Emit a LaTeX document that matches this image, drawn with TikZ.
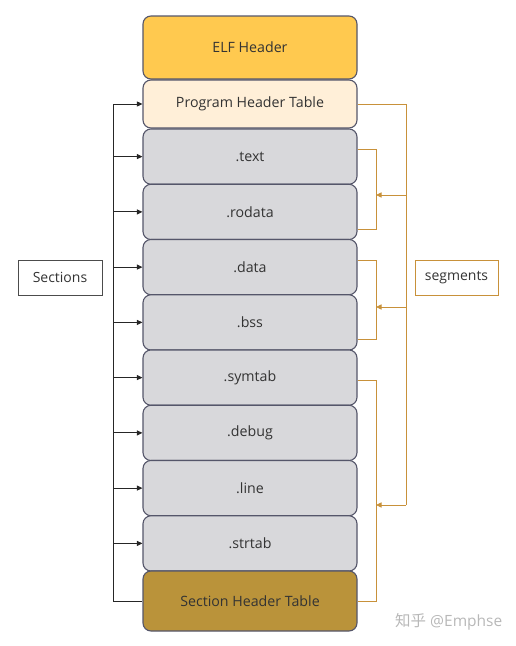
\documentclass[tikz,border=0pt]{standalone}
\usepackage{fontspec}
\setmainfont{Open Sans}
\newfontfamily\cjkfont{Noto Sans CJK SC}
\usetikzlibrary{arrows.meta}
\definecolor{elfc}{HTML}{FFC94F}
\definecolor{phtc}{HTML}{FFEFD8}
\definecolor{grayc}{HTML}{D8D8DB}
\definecolor{shtc}{HTML}{BA933A}
\definecolor{bordc}{HTML}{55566A}
\definecolor{orc}{HTML}{C8913A}
\definecolor{txtc}{HTML}{333333}
\tikzset{
  blk/.style={draw=bordc, line width=1.1pt, rounded corners=8pt, minimum width=214pt, inner sep=0pt, text=txtc, font=\fontsize{14.2}{16}\selectfont},
  secbox/.style={blk, fill=grayc, minimum height=55.25pt},
  larr/.style={draw=black!85, line width=0.9pt, -{Triangle[length=5.5pt,width=5pt]}},
  lline/.style={draw=black!85, line width=0.9pt},
  rarr/.style={draw=orc, line width=0.9pt, -{Triangle[length=5.5pt,width=5pt]}},
  rline/.style={draw=orc, line width=0.9pt},
  lab/.style={inner sep=0pt, minimum width=84pt, minimum height=35pt, text=txtc, font=\fontsize{14}{16}\selectfont, line width=0.9pt}
}
\begin{document}
\begin{tikzpicture}[x=1pt,y=-1pt]
\useasboundingbox (0,0) rectangle (515,646);
\node[blk, fill=elfc, minimum height=63pt] (elf) at (250,47.5) {ELF Header};
\node[blk, fill=phtc, minimum height=48pt] (pht) at (250,104) {Program Header Table};
\node[secbox] (text) at (250,156.6) {.text};
\node[secbox] (rodata) at (250,211.9) {.rodata};
\node[secbox] (data) at (250,267.1) {.data};
\node[secbox] (bss) at (250,322.4) {.bss};
\node[secbox] (symtab) at (250,377.6) {.symtab};
\node[secbox] (debug) at (250,432.9) {.debug};
\node[secbox] (line) at (250,488.1) {.line};
\node[secbox] (strtab) at (250,543.4) {.strtab};
\node[blk, fill=shtc, minimum height=60pt] (sht) at (250,601) {Section Header Table};

\node[lab, draw=black!70] (sections) at (60,277.5) {Sections};
\node[lab, draw=orc, minimum width=83pt] (segments) at (456.5,277.5) {segments};

% left bus
\coordinate (lbus) at (113,0);
\draw[lline] (pht.west -| lbus) -- (sht.west -| lbus) -- (sht.west);
\foreach \n in {pht,text,rodata,data,bss,symtab,debug,line,strtab}
  \draw[larr] (\n.west -| lbus) -- (\n.west);

% right brackets
\coordinate (rb) at (376,0);
\coordinate (rbus) at (406,0);
\draw[rline] (text.east |- 0,149) -- (rb |- 0,149) -- (rb |- 0,229) -- (rodata.east |- 0,229);
\draw[rline] (data.east |- 0,260) -- (rb |- 0,260) -- (rb |- 0,339) -- (bss.east |- 0,339);
\draw[rline] (symtab.east |- 0,380) -- (rb |- 0,380) -- (rb |- 0,601) -- (sht.east);
% right bus
\draw[rline] (pht.east) -- (pht.east -| rbus) -- (rbus |- 0,505);
\draw[rarr] (rbus |- 0,195) -- (rb |- 0,195);
\draw[rarr] (rbus |- 0,307) -- (rb |- 0,307);
\draw[rarr] (rbus |- 0,505) -- (rb |- 0,505);

\node[text=black!28, font=\fontsize{15.5}{17}\selectfont, anchor=west, inner sep=0pt] (wm) at (395,622) {{\cjkfont 知乎} @Emphse};
\end{tikzpicture}
\end{document}
